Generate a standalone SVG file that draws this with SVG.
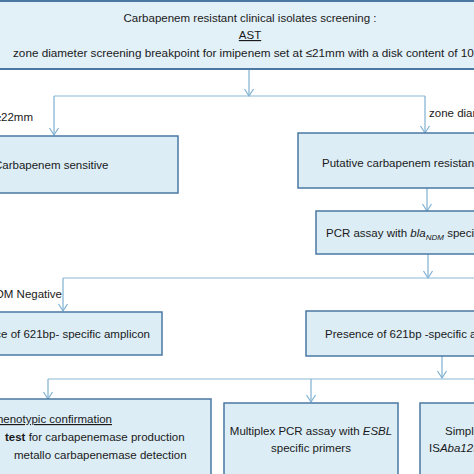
<svg xmlns="http://www.w3.org/2000/svg" width="474" height="474" viewBox="0 0 474 474">
<defs>
<style>
.box{fill:#dcedf6;stroke:#4a78a3;stroke-width:1.5}
.top{fill:#e2f0f8}
.edge{stroke:#4a78a3;stroke-width:2}
.con{fill:none;stroke:#8ab8d6;stroke-width:1.2}
.arr{fill:none;stroke:#7fb0d2;stroke-width:1.2;marker-end:url(#ah)}
text{font-family:"Liberation Sans",Arial,sans-serif;font-size:11.5px;fill:#1a1a1a}
.it{font-style:italic}
.b{font-weight:bold}
.u{text-decoration:underline}
</style>
<marker id="ah" markerUnits="userSpaceOnUse" markerWidth="10" markerHeight="12" refX="8" refY="5" orient="auto" viewBox="0 0 10 10">
<path d="M1,0.5 L8,5 L1,9.5" fill="none" stroke="#7fb0d2" stroke-width="1.2"/>
</marker>
</defs>
<rect width="474" height="474" fill="#ffffff"/>

<g id="connectors">
<path class="arr" d="M249,70 V96"/>
<path class="con" d="M54,96 H425"/>
<path class="arr" d="M54,96 V135"/>
<path class="arr" d="M425,96 V133"/>
<path class="arr" d="M427,188 V211"/>
<path class="arr" d="M428,254 V278"/>
<path class="con" d="M63,278 H476"/>
<path class="arr" d="M63,278 V311"/>
<path class="arr" d="M442,356 V378"/>
<path class="con" d="M48,379 H476"/>
<path class="arr" d="M48,379 V399"/>
<path class="arr" d="M311,379 V402"/>
</g>

<g id="node-screening">
<rect class="top" x="-5" y="0" width="484" height="69"/>
<line class="edge" x1="-5" y1="1" x2="479" y2="1"/>
<line class="edge" x1="-5" y1="69" x2="479" y2="69"/>
<text x="250" y="22" text-anchor="middle" textLength="253" lengthAdjust="spacingAndGlyphs">Carbapenem resistant clinical isolates  screening :</text>
<text x="250" y="39" text-anchor="middle" class="u">AST</text>
<text x="13" y="57" textLength="474" lengthAdjust="spacingAndGlyphs">zone diameter screening breakpoint for imipenem set at ≤21mm with a disk content of 10µg</text>
</g>

<g id="label-sensitive-criterion">
<text x="33" y="121" text-anchor="end">≥22mm</text>
</g>
<g id="label-resistant-criterion">
<text x="429" y="117">zone diameter ≤21mm</text>
</g>

<g id="node-sensitive">
<rect class="box" x="-5" y="136" width="183" height="57"/>
<text x="-6" y="169">Carbapenem sensitive</text>
</g>

<g id="node-putative">
<rect class="box" x="298" y="133" width="190" height="55"/>
<text x="322" y="167">Putative carbapenem resistant</text>
</g>

<g id="node-pcr-ndm">
<rect class="box" x="316" y="211" width="170" height="43"/>
<text x="326" y="237">PCR assay with <tspan class="it">bla</tspan><tspan dy="3" class="it" font-size="8">NDM</tspan><tspan dy="-3"> specific primers</tspan></text>
</g>

<g id="label-ndm-negative">
<text x="62" y="298" text-anchor="end">NDM Negative</text>
</g>

<g id="node-absence">
<rect class="box" x="-5" y="312" width="167" height="43"/>
<text x="150" y="338" text-anchor="end">Absence of 621bp- specific amplicon</text>
</g>

<g id="node-presence">
<rect class="box" x="306" y="311" width="185" height="45"/>
<text x="325" y="338">Presence of 621bp -specific amplicon</text>
</g>

<g id="node-phenotypic">
<rect class="box" x="-5" y="399" width="216" height="80"/>
<text x="112" y="423" text-anchor="end" class="u">Phenotypic confirmation</text>
<text x="5" y="441"><tspan class="b">test</tspan> for carbapenemase production</text>
<text x="14" y="459">metallo carbapenemase detection</text>
</g>

<g id="node-multiplex">
<rect class="box" x="224" y="403" width="174" height="76"/>
<text x="311" y="435" text-anchor="middle">Multiplex PCR assay with <tspan class="it">ESBL</tspan></text>
<text x="311" y="452" text-anchor="middle">specific primers</text>
</g>

<g id="node-simplex">
<rect class="box" x="420" y="403" width="70" height="76"/>
<text x="445" y="435">Simplex</text>
<text x="429" y="452">IS<tspan class="it">Aba125</tspan></text>
</g>
</svg>
